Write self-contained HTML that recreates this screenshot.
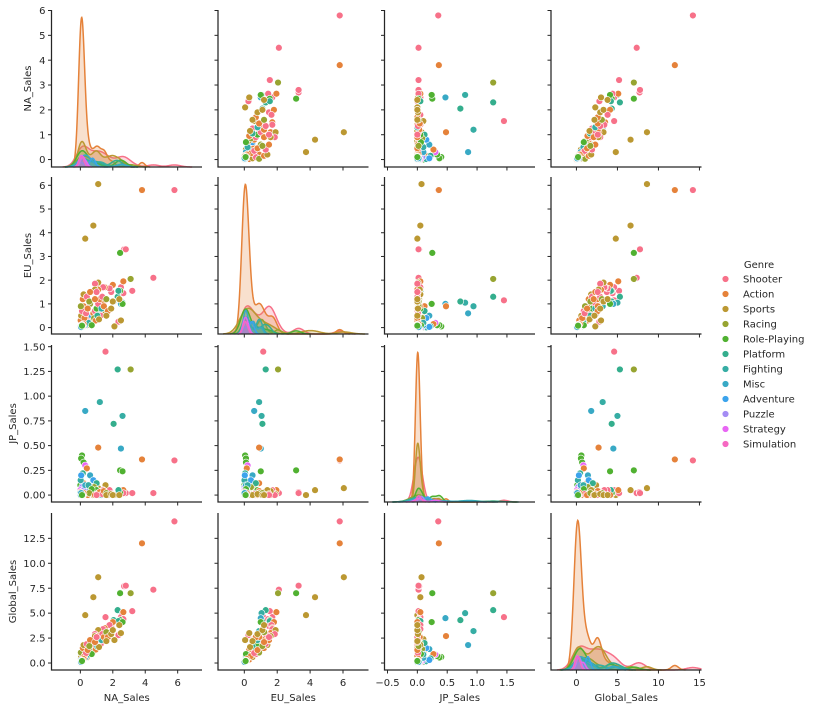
<!DOCTYPE html>
<html><head><meta charset="utf-8">
<style>
html,body{margin:0;padding:0;background:#fff;}
svg{display:block;font-family:"DejaVu Sans","Liberation Sans",sans-serif;}
</style></head>
<body>
<svg id="chart" width="813" height="709" viewBox="0 0 813 709" xmlns="http://www.w3.org/2000/svg"></svg>
<script>
const genres = ["Shooter","Action","Sports","Racing","Role-Playing","Platform","Fighting","Misc","Adventure","Puzzle","Strategy","Simulation"];
const genreColors = ["#f77189","#e5823a","#bb9832","#97a431","#50b131","#34ae8d","#36ada4","#38a9c5","#3ba3ec","#a48cf4","#e866f4","#f668c2"];
const variables = ["NA_Sales","EU_Sales","JP_Sales","Global_Sales"];
const ticksNA = [0,1,2,3,4,5,6];
const ticksEU = [0,1,2,3,4,5,6];
const ticksJP = [0,0.25,0.5,0.75,1.0,1.25,1.5];
const ticksGlobal = [0,2.5,5,7.5,10,12.5];
const xTicksNA = [0,2,4,6];
const xTicksEU = [0,2,4,6];
const xTicksJP = [-0.5,0,0.5,1.0,1.5];
const xTicksGlobal = [0,5,10,15];
// records: [NA, EU, JP, Global, genreIndex]
const records = [
[5.8,5.8,0.35,14.2,0],[3.8,5.8,0.36,12.0,1],[1.1,6.05,0.07,8.6,2],[4.5,2.1,0.02,7.35,0],
[0.8,4.3,0.05,6.6,2],[0.3,3.75,0.0,4.8,2],[2.7,3.3,0.03,7.7,0],[2.8,3.3,0.02,7.75,0],
[3.1,2.05,1.27,7.0,3],[2.45,3.15,0.25,7.0,4],[3.2,1.55,0.02,5.2,0],[2.3,1.3,1.27,5.3,5],
[1.55,1.15,1.45,4.6,0],[1.2,0.9,0.94,3.2,6],[0.3,0.6,0.85,1.8,7],[2.6,1.05,0.8,5.0,6],
[2.05,1.1,0.72,4.3,5],[2.5,1.0,0.47,4.5,7],
[2.35,0.25,0.0,2.8,0],[2.1,0.05,0.0,2.3,2],[2.5,0.3,0.01,3.0,2],[2.5,1.7,0.05,4.6,0],
[2.65,1.95,0.05,5.1,1],[2.65,1.45,0.02,4.4,0],[2.45,1.55,0.02,4.3,4],[2.35,1.55,0.05,4.2,5],
[1.9,1.5,0.02,3.7,0],[2.0,1.8,0.0,4.1,1],[1.8,1.65,0.05,3.8,0],[1.55,0.6,0.1,2.4,2],
[1.5,1.7,0.02,3.5,1],[1.4,1.7,0.05,3.4,0],[1.1,1.6,0.0,3.0,1],[1.4,1.0,0.0,2.6,1],
[1.25,0.5,0.03,1.9,0],[1.1,1.9,0.01,3.3,2],[0.9,1.85,0.0,2.9,0],[0.9,1.6,0.04,2.7,2],
[0.6,1.0,0.01,1.8,3],[0.2,0.9,0.12,1.3,1],[1.1,0.9,0.48,2.7,1],[0.1,0.05,0.40,0.6,4],
[0.05,0.1,0.37,0.55,4],[0.2,0.1,0.33,0.7,4],[0.3,0.2,0.3,0.85,10],[0.4,0.15,0.27,0.9,1],
[0.15,0.05,0.22,0.45,5],[2.6,1.0,0.24,4.1,4],[0.6,0.5,0.2,1.4,7],[0.8,0.4,0.15,1.5,8],
[1.0,0.7,0.12,2.0,5],
[0.05,0.02,0,0.08,1],[0.1,0.05,0.01,0.17,0],[0.15,0.08,0,0.25,3],[0.2,0.1,0.02,0.34,1],
[0.25,0.15,0,0.43,4],[0.3,0.2,0.01,0.55,0],[0.35,0.25,0.03,0.68,1],[0.4,0.1,0.0,0.55,2],
[0.45,0.3,0.02,0.82,5],[0.5,0.35,0.0,0.92,6],[0.55,0.2,0.05,0.85,7],[0.6,0.45,0.01,1.15,1],
[0.65,0.3,0.0,1.0,0],[0.7,0.5,0.03,1.3,8],[0.75,0.25,0.0,1.05,2],[0.8,0.6,0.02,1.5,1],
[0.85,0.4,0.08,1.4,3],[0.9,0.7,0.0,1.7,0],[0.95,0.3,0.01,1.35,1],[1.0,0.8,0.05,1.95,4],
[1.05,0.5,0.0,1.65,5],[1.1,1.0,0.02,2.3,0],[1.15,0.35,0,1.6,2],[1.2,1.2,0.03,2.6,1],
[1.3,0.8,0.0,2.3,6],[1.35,1.3,0.01,2.9,0],[1.45,0.9,0.04,2.6,1],[1.6,1.2,0.02,3.1,3],
[1.7,0.7,0.0,2.6,1],[0.02,0.3,0.0,0.35,1],[0.05,0.5,0.01,0.6,2],[0.1,0.7,0.0,0.9,0],
[0.03,0.9,0.02,1.05,3],[0.15,1.2,0.0,1.5,1],[0.2,1.4,0.05,1.8,2],[0.4,1.3,0.0,1.9,0],
[0.6,1.5,0.01,2.3,1],[0.0,0.0,0.1,0.1,4],[0.02,0.01,0.15,0.18,6],[0.05,0.03,0.2,0.3,8],
[0.1,0.02,0.08,0.2,9],[0.0,0.01,0.05,0.06,10],[0.03,0.02,0.03,0.08,11],[0.08,0.05,0,0.14,10],
[0.12,0.1,0.02,0.25,11],[0.2,0.15,0.05,0.42,9],[0.3,0.1,0.1,0.52,7],[0.5,0.2,0.1,0.85,6],
[0.7,0.1,0.06,0.9,4],[0.25,0.4,0.0,0.7,1],[0.35,0.6,0.01,1.0,0],[0.45,0.8,0.0,1.3,1],
[0.55,1.1,0.02,1.7,3],[0.9,1.2,0,2.1,1],[1.0,1.5,0.0,2.6,0],[1.6,0.5,0,2.2,2],
[1.9,0.8,0.01,2.9,2],[2.0,1.1,0.0,3.3,2],[2.4,1.2,0,3.8,2],[0.0,0.0,0.0,0.02,2],
[0.01,0.0,0.0,0.03,1],[0.02,0.01,0.0,0.04,0],[0.0,0.02,0.01,0.04,3],[0.01,0.01,0.02,0.05,1],
[0.03,0.0,0.0,0.04,1],[0.0,0.03,0.0,0.04,2],[0.04,0.04,0.01,0.1,1],[0.06,0.02,0.0,0.09,0],
[0.02,0.05,0,0.08,1],[0.0,0.0,0.01,0.02,1],[0.01,0.02,0.0,0.03,4],[0.07,0.06,0.0,0.14,1],
[0.09,0.03,0.01,0.14,5],[0.0,0.0,0.03,0.04,1],[0.01,0.0,0.0,0.02,1],[0.02,0.0,0.01,0.03,1],
[0.0,0.01,0.0,0.02,0],[0.03,0.01,0.0,0.05,2],[0.0,0.0,0.02,0.03,6],[0.01,0.03,0.0,0.05,5],
[0.12,0.05,0.0,0.19,1],[0.08,0.1,0.01,0.2,1],[0.15,0.12,0.0,0.3,1],[0.05,0.08,0.0,0.14,1],
[0.1,0.0,0.02,0.13,1],[0.18,0.1,0.0,0.31,1],[0.02,0.04,0.0,0.06,1],[0.06,0.06,0.01,0.14,1],
[0.13,0.07,0.0,0.22,1],[0.04,0.02,0.0,0.07,1],[0.09,0.09,0.0,0.2,1],[0.16,0.04,0.01,0.23,1],
[0.0,0.0,0.0,0.01,1],[0.01,0.01,0.0,0.02,1],[0.03,0.03,0.0,0.07,1],[0.2,0.15,0.02,0.4,1],
[0.11,0.12,0.0,0.25,1],[0.07,0.02,0.0,0.1,1],[0.14,0.09,0.01,0.26,1],[0.05,0.0,0.0,0.06,1],
[0.1,0.06,0.0,0.18,0],[0.06,0.1,0.0,0.17,0],[0.12,0.02,0.0,0.15,2],[0.04,0.06,0.0,0.11,2],
[0.08,0.03,0.01,0.13,3],[0.03,0.05,0.0,0.09,7],[0.05,0.02,0.02,0.1,7],[0.1,0.08,0.0,0.2,4]
];

const NS="http://www.w3.org/2000/svg";
const svg=document.getElementById('chart');
const colL=[51.5,218,384.5,551];
const rowT=[10,177,345,513];
const PW=150.5, PH=157;
const xRanges=[[-1.78,7.5],[-1.6,7.55],[-0.55,1.97],[-3.1,15.25]];
const yRanges=[[-0.3,6.02],[-0.27,6.35],[-0.07,1.517],[-0.7,15.04]];
const yTickSets=[ticksNA,ticksEU,ticksJP,ticksGlobal];
const xTickSets=[xTicksNA,xTicksEU,xTicksJP,xTicksGlobal];
const yFmt=[v=>String(v),v=>String(v),v=>v.toFixed(2),v=>v.toFixed(1)];
const xFmt=[v=>String(v),v=>String(v),v=>(v<0?'\u2212'+Math.abs(v).toFixed(1):v.toFixed(1)),v=>String(v)];
const yLabelX=[31,31,16,16];
function el(tag,attrs,parent){const e=document.createElementNS(NS,tag);for(const k in attrs)e.setAttribute(k,attrs[k]);(parent||svg).appendChild(e);return e;}
function xs(c,v){const r=xRanges[c];return colL[c]+(v-r[0])/(r[1]-r[0])*PW;}
function ys(r,v){const q=yRanges[r];return rowT[r]+PH-(v-q[0])/(q[1]-q[0])*PH;}

for(let r=0;r<4;r++){
  for(let c=0;c<4;c++){
    const g=el('g',{});
    
    
    const x0=colL[c], y0=rowT[r];
    if(r===c){
      const N=records.length;
      const xr=xRanges[c];
      const span=xr[1]-xr[0];
      const curves=[]; let maxD=0;
      genres.forEach((gn,gi)=>{
        const vals=records.filter(d=>d[4]===gi).map(d=>d[c]);
        if(vals.length<2)return;
        const m=vals.reduce((a,b)=>a+b,0)/vals.length;
        const sd=Math.sqrt(vals.reduce((a,b)=>a+(b-m)*(b-m),0)/(vals.length-1));
        if(sd===0)return;
        const bw=Math.max(0.5*sd*Math.pow(vals.length,-0.2),0.015*span);
        const lo=Math.max(xr[0],Math.min(...vals)-3*bw), hi=Math.min(xr[1],Math.max(...vals)+3*bw);
        const pts=[];
        for(let i=0;i<=300;i++){
          const xv=lo+(hi-lo)*i/300;
          let s=0;for(const v of vals){const z=(xv-v)/bw;s+=Math.exp(-0.5*z*z);}
          const d=s/(vals.length*bw*Math.sqrt(2*Math.PI))*(vals.length/N);
          if(d>maxD)maxD=d;
          pts.push([xv,d]);
        }
        curves.push({gi,pts});
      });
      const top=maxD*1.05;
      const yd=d=>y0+PH-d/top*PH;
      curves.forEach(cv=>{
        const line=cv.pts.map((p,i)=>(i?'L':'M')+xs(c,p[0]).toFixed(2)+','+yd(p[1]).toFixed(2)).join('');
        const area=line+'L'+xs(c,cv.pts[cv.pts.length-1][0]).toFixed(2)+','+(y0+PH)+'L'+xs(c,cv.pts[0][0]).toFixed(2)+','+(y0+PH)+'Z';
        const a=el('path',{d:area,fill:genreColors[cv.gi],'fill-opacity':0.25,stroke:'none'},g);
        
        
        const l=el('path',{d:line,fill:'none',stroke:genreColors[cv.gi],'stroke-width':1.5},g);
        
        
      });
    } else {
      records.forEach(d=>{
        const p=el('circle',{cx:xs(c,d[c]).toFixed(2),cy:ys(r,d[r]).toFixed(2),r:3.4,fill:genreColors[d[4]],stroke:'#fff','stroke-width':0.6},g);
        
        
      });
    }
    const sp=el('path',{d:`M${x0},${y0}V${y0+PH}H${x0+PW}`,fill:'none',stroke:'#262626','stroke-width':1.25},g);
    
    
    yTickSets[r].forEach(t=>{
      const yy=ys(r,t);
      el('line',{x1:x0-3.5,x2:x0,y1:yy,y2:yy,stroke:'#262626','stroke-width':1},g);
      if(c===0){
        const tx=el('text',{x:x0-6,y:yy+3.6,'text-anchor':'end','font-size':10,fill:'#262626'},g);
        tx.textContent=yFmt[r](t);
        
        
      }
    });
    xTickSets[c].forEach(t=>{
      const xx=xs(c,t);
      el('line',{x1:xx,x2:xx,y1:y0+PH,y2:y0+PH+3.5,stroke:'#262626','stroke-width':1},g);
      if(r===3){
        const tx=el('text',{x:xx,y:y0+PH+16,'text-anchor':'middle','font-size':10,fill:'#262626'},g);
        tx.textContent=xFmt[c](t);
        
        
      }
    });
  }
}
variables.forEach((v,i)=>{
  const cy=rowT[i]+PH/2;
  const t=el('text',{x:yLabelX[i],y:cy,transform:`rotate(-90 ${yLabelX[i]} ${cy})`,'text-anchor':'middle','font-size':10,fill:'#262626'});
  t.textContent=v;
  
  
  const tx=el('text',{x:colL[i]+PW/2,y:701,'text-anchor':'middle','font-size':10,fill:'#262626'});
  tx.textContent=v;
  
  
});
const lg=el('g',{});


const lt=el('text',{x:759,y:268,'text-anchor':'middle','font-size':10,fill:'#262626'},lg);
lt.textContent='Genre';


genres.forEach((gn,i)=>{
  const yy=279+i*15;
  const e=el('g',{},lg);
  
  
  el('circle',{cx:725.5,cy:yy,r:3.4,fill:genreColors[i],stroke:'#fff','stroke-width':0.6},e);
  const t=el('text',{x:743,y:yy+3.6,'font-size':10,fill:'#262626'},e);
  t.textContent=gn;
});
</script>
</body></html>
